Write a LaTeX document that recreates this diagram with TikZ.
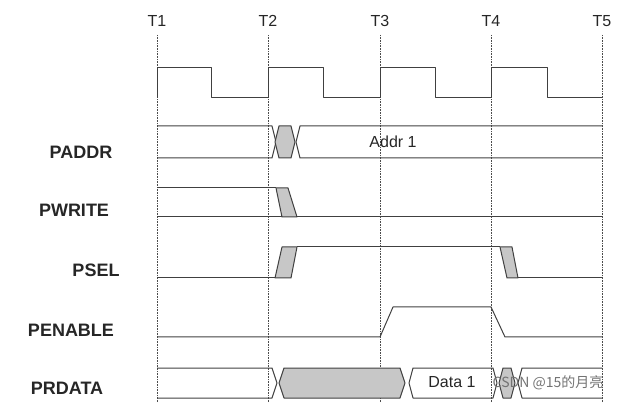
\documentclass[tikz,border=0pt]{standalone}
\usepackage{fontspec}
\setmainfont{Liberation Sans}
\newfontfamily\cjk{Noto Sans CJK SC}
\begin{document}
\begin{tikzpicture}[x=1pt,y=-1pt,
  sig/.style={draw=black!75,line width=1pt,line join=round},
  gsig/.style={sig,fill=black!22},
  grid/.style={draw=black!70,densely dotted,line width=0.6pt},
  lab/.style={font=\bfseries\fontsize{18}{20}\selectfont,anchor=center,text=black!85},
  tl/.style={font=\fontsize{16}{18}\selectfont,anchor=center,text=black!85}]
\useasboundingbox (0,0) rectangle (632,403);
% time labels and grid
\foreach \x/\t in {157/T1,268/T2,380/T3,491/T4,602/T5}{
  \node[tl] (lab\t) at (\x,21) {\t};
  \draw[grid] (\x,35) -- (\x,403);
}
% clock
\draw[sig] (157,98) -- (157,68) -- (211,68) -- (211,98) -- (268,98) -- (268,68) -- (323,68) -- (323,98)
  -- (380,98) -- (380,68) -- (435,68) -- (435,98) -- (491,98) -- (491,68) -- (547,68) -- (547,98) -- (602,98);
% PADDR
\node[lab] (paddr) at (81,152) {PADDR};
\draw[sig] (157,126) -- (272,126) -- (276,142) -- (272,158) -- (157,158);
\draw[gsig] (279,126) -- (291,126) -- (295,142) -- (291,158) -- (279,158) -- (275,142) -- cycle;
\draw[sig] (602,126) -- (300,126) -- (296,142) -- (300,158) -- (602,158);
\node[tl] (addr) at (393,142) {Addr 1};
% PWRITE
\node[lab] (pwrite) at (74,210) {PWRITE};
\draw[sig] (157,217) -- (602,217);
\draw[sig] (157,188) -- (276,188);
\draw[gsig] (276,188) -- (288,188) -- (297,217) -- (282,217) -- cycle;
% PSEL
\node[lab] (psel) at (96,270) {PSEL};
\draw[sig] (157,278) -- (275,278);
\draw[gsig] (275,278) -- (282,247) -- (297,247) -- (291,278) -- cycle;
\draw[sig] (297,247) -- (500,247);
\draw[gsig] (500,247) -- (512,247) -- (518,278) -- (507,278) -- cycle;
\draw[sig] (518,278) -- (602,278);
% PENABLE
\node[lab] (penable) at (71,330) {PENABLE};
\draw[sig] (157,337) -- (380,337) -- (393,307) -- (491,307) -- (505,337) -- (602,337);
% PRDATA
\node[lab] (prdata) at (67,388) {PRDATA};
\draw[sig] (157,368) -- (272,368) -- (277,383) -- (272,398) -- (157,398);
\draw[gsig] (284,368) -- (400,368) -- (405,383) -- (400,398) -- (284,398) -- (279,383) -- cycle;
\draw[sig] (413,368) -- (493,368) -- (497,383) -- (493,398) -- (413,398) -- (409,383) -- cycle;
\draw[gsig] (503,368) -- (511,368) -- (515,383) -- (511,398) -- (503,398) -- (499,383) -- cycle;
\draw[sig] (602,368) -- (522,368) -- (518,383) -- (522,398) -- (602,398);
\node[tl] (data) at (452,382) {Data 1};
\node[font=\cjk\fontsize{14}{16}\selectfont,text=black!55] (wm) at (548,383) {CSDN @15的月亮};
\end{tikzpicture}
\end{document}
